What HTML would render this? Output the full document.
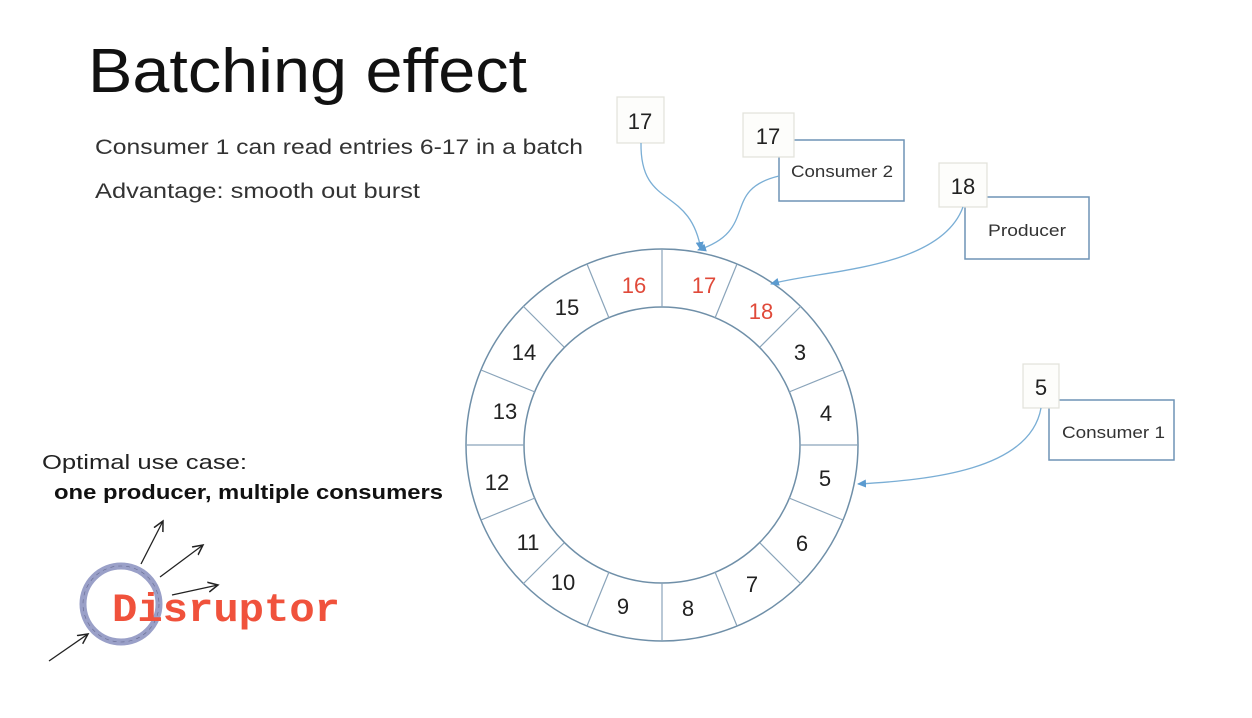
<!DOCTYPE html>
<html><head><meta charset="utf-8"><style>
html,body{margin:0;padding:0;background:#fff;}
svg{display:block;font-family:"Liberation Sans",sans-serif;}
</style></head><body>
<svg width="1252" height="718" viewBox="0 0 1252 718" xmlns="http://www.w3.org/2000/svg">
<defs>
<marker id="a" markerWidth="10" markerHeight="10" refX="8" refY="5" orient="auto" markerUnits="userSpaceOnUse"><path d="M0,1 L9,5 L0,9 z" fill="#5b9bd0"/></marker>
<marker id="k" markerWidth="12" markerHeight="12" refX="10" refY="6" orient="auto" markerUnits="userSpaceOnUse"><path d="M0,1 L10,6 L0,11" fill="none" stroke="#222" stroke-width="1.5"/></marker>
</defs>
<text x="88" y="92" font-size="62" fill="#111" textLength="439" lengthAdjust="spacingAndGlyphs">Batching effect</text>
<text x="95" y="154" font-size="21" fill="#333" textLength="488" lengthAdjust="spacingAndGlyphs">Consumer 1 can read entries 6-17 in a batch</text>
<text x="95" y="198" font-size="21" fill="#333" textLength="325" lengthAdjust="spacingAndGlyphs">Advantage: smooth out burst</text>
<text x="42" y="469" font-size="20" fill="#222" textLength="205" lengthAdjust="spacingAndGlyphs">Optimal use case:</text>
<text x="54" y="499" font-size="20" font-weight="bold" fill="#111" textLength="389" lengthAdjust="spacingAndGlyphs">one producer, multiple consumers</text>

<circle cx="662" cy="445" r="196" fill="#fff" stroke="#6f8fa8" stroke-width="1.5"/>
<circle cx="662" cy="445" r="138" fill="#fff" stroke="#6f8fa8" stroke-width="1.5"/>
<g stroke="#8aa4ba" stroke-width="1.2">
<line x1="662" y1="249" x2="662" y2="307"/>
<line x1="737" y1="264" x2="715" y2="318"/>
<line x1="801" y1="306" x2="760" y2="347"/>
<line x1="843" y1="370" x2="789" y2="392"/>
<line x1="858" y1="445" x2="800" y2="445"/>
<line x1="843" y1="520" x2="789" y2="498"/>
<line x1="801" y1="584" x2="760" y2="543"/>
<line x1="737" y1="626" x2="715" y2="572"/>
<line x1="662" y1="641" x2="662" y2="583"/>
<line x1="587" y1="626" x2="609" y2="572"/>
<line x1="523" y1="584" x2="564" y2="543"/>
<line x1="481" y1="520" x2="535" y2="498"/>
<line x1="466" y1="445" x2="524" y2="445"/>
<line x1="481" y1="370" x2="535" y2="392"/>
<line x1="523" y1="306" x2="564" y2="347"/>
<line x1="587" y1="264" x2="609" y2="318"/>
</g>
<g font-size="22" text-anchor="middle" fill="#222">
<text x="634" y="293" fill="#e04a3a">16</text>
<text x="704" y="293" fill="#e04a3a">17</text>
<text x="761" y="319" fill="#e04a3a">18</text>
<text x="800" y="360">3</text>
<text x="826" y="421">4</text>
<text x="825" y="486">5</text>
<text x="802" y="551">6</text>
<text x="752" y="592">7</text>
<text x="688" y="616">8</text>
<text x="623" y="614">9</text>
<text x="563" y="590">10</text>
<text x="528" y="550">11</text>
<text x="497" y="490">12</text>
<text x="505" y="419">13</text>
<text x="524" y="360">14</text>
<text x="567" y="315">15</text>
</g>

<g fill="#fff" stroke="#6f93b5" stroke-width="1.5">
<rect x="779" y="140" width="125" height="61"/>
<rect x="965" y="197" width="124" height="62"/>
<rect x="1049" y="400" width="125" height="60"/>
</g>
<g fill="#fdfdfb" stroke="#e2e2da" stroke-width="1.2">
<rect x="617" y="97" width="47" height="46"/>
<rect x="743" y="113" width="51" height="44"/>
<rect x="939" y="163" width="48" height="44"/>
<rect x="1023" y="364" width="36" height="44"/>
</g>
<g font-size="17" fill="#333">
<text x="791" y="177" textLength="102" lengthAdjust="spacingAndGlyphs">Consumer 2</text>
<text x="988" y="236" textLength="78" lengthAdjust="spacingAndGlyphs">Producer</text>
<text x="1062" y="438" textLength="103" lengthAdjust="spacingAndGlyphs">Consumer 1</text>
</g>
<g font-size="22" fill="#222" text-anchor="middle">
<text x="640" y="129">17</text>
<text x="768" y="144">17</text>
<text x="963" y="194">18</text>
<text x="1041" y="395">5</text>
</g>
<g fill="none" stroke="#7aaed5" stroke-width="1.3">
<path d="M641,143 C640,210 690,185 701,250" marker-end="url(#a)"/>
<path d="M779,176 C720,190 760,230 698,250" marker-end="url(#a)"/>
<path d="M963,207 C940,270 820,270 771,284" marker-end="url(#a)"/>
<path d="M1041,408 C1030,470 930,480 858,484" marker-end="url(#a)"/>
</g>

<circle cx="121" cy="604" r="38" fill="none" stroke="#9aa0c8" stroke-width="7"/>
<circle cx="121" cy="604" r="38" fill="none" stroke="#666a90" stroke-width="0.6" stroke-dasharray="4 4"/>
<g stroke="#222" stroke-width="1.3" fill="none">
<line x1="141" y1="564" x2="163" y2="521" marker-end="url(#k)"/>
<line x1="160" y1="577" x2="203" y2="545" marker-end="url(#k)"/>
<line x1="172" y1="595" x2="218" y2="585" marker-end="url(#k)"/>
<line x1="49" y1="661" x2="88" y2="634" marker-end="url(#k)"/>
</g>
<text x="112" y="621" font-family="'Liberation Mono',monospace" font-weight="bold" font-size="40" fill="#f0523c" textLength="228" lengthAdjust="spacingAndGlyphs">Disruptor</text>
</svg>
</body></html>
